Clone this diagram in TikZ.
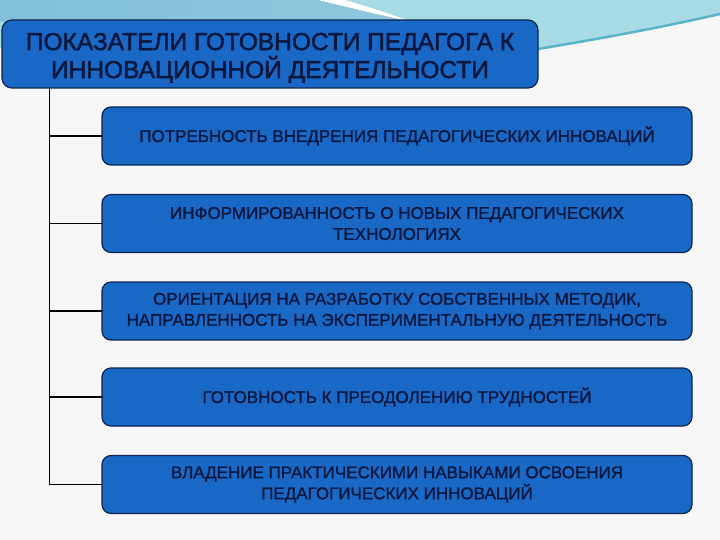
\documentclass[tikz,border=0pt]{standalone}
\usepackage{fontspec}
\setmainfont[FakeBold=1.6]{Liberation Sans}
\newfontfamily\titlefont[FakeBold=2.2]{Liberation Sans}
\usetikzlibrary{positioning}
\definecolor{boxblue}{RGB}{26,104,198}
\definecolor{boxedge}{RGB}{12,38,80}
\definecolor{ink}{RGB}{10,24,64}
\definecolor{skyteal}{RGB}{168,220,228}
\definecolor{skyblue}{RGB}{130,192,218}
\definecolor{tealedge}{RGB}{90,180,200}
\begin{document}
\begin{tikzpicture}[x=1pt,y=-1pt,line join=round,line cap=round,
	titlebox/.style={rectangle,draw=boxedge,fill=boxblue,rounded corners=10pt,
		minimum width=536pt,minimum height=68pt,align=center,text=ink,
		font=\titlefont\fontsize{24.5}{26.5}\selectfont,line width=1.2pt},
	itembox/.style={rectangle,draw=boxedge,fill=boxblue,rounded corners=9pt,
		minimum width=590pt,minimum height=58pt,align=center,text=ink,
		font=\fontsize{17}{21}\selectfont,line width=1.2pt},
	link/.style={black,line width=1.8pt,line cap=rect}]
	\useasboundingbox (0,0) rectangle (720,540);
	\fill[white!97!black] (0,0) rectangle (720,540);
	% swoosh at the top
	\fill[skyteal] (0,0)--(720,0)--(720,14) .. controls (650,30) and (580,42) .. (538,48)--(0,48)--cycle;
	\fill[left color=skyblue,right color=skyblue!70!skyteal] (0,0)--(318,0) .. controls (350,8) and (380,15) .. (412,22)--(0,22)--cycle;
	\fill[white] (318,0) .. controls (350,8) and (380,15) .. (412,22) .. controls (385,12) and (362,5) .. (345,0)--cycle;
	\draw[tealedge,line width=2.5pt] (538,49) .. controls (580,42) and (650,30) .. (720,14);
	\path (270,54)node[titlebox](t){\rule{0pt}{25pt}ПОКАЗАТЕЛИ ГОТОВНОСТИ ПЕДАГОГА К\\ИННОВАЦИОННОЙ ДЕЯТЕЛЬНОСТИ};
	\path (397,136)node[itembox](p1){ПОТРЕБНОСТЬ ВНЕДРЕНИЯ ПЕДАГОГИЧЕСКИХ ИННОВАЦИЙ}
	++(0,87.5)node[itembox](p2){ИНФОРМИРОВАННОСТЬ О НОВЫХ ПЕДАГОГИЧЕСКИХ\\ТЕХНОЛОГИЯХ}
	++(0,87.5)node[itembox](p3){ОРИЕНТАЦИЯ НА РАЗРАБОТКУ СОБСТВЕННЫХ МЕТОДИК,\\НАПРАВЛЕННОСТЬ НА ЭКСПЕРИМЕНТАЛЬНУЮ ДЕЯТЕЛЬНОСТЬ}
	++(0,86)node[itembox](p4){ГОТОВНОСТЬ К ПРЕОДОЛЕНИЮ ТРУДНОСТЕЙ}
	++(0,87.5)node[itembox](p5){ВЛАДЕНИЕ ПРАКТИЧЕСКИМИ НАВЫКАМИ ОСВОЕНИЯ\\ПЕДАГОГИЧЕСКИХ ИННОВАЦИЙ};
	\coordinate (v0) at ([xshift=48pt]t.south west);
	\draw[link] (v0)|-(p5.west);
	\draw[link] (v0|-p1.west)--(p1.west);
	\draw[link] (v0|-p2.west)--(p2.west);
	\draw[link] (v0|-p3.west)--(p3.west);
	\draw[link] (v0|-p4.west)--(p4.west);
\end{tikzpicture}
\end{document}
